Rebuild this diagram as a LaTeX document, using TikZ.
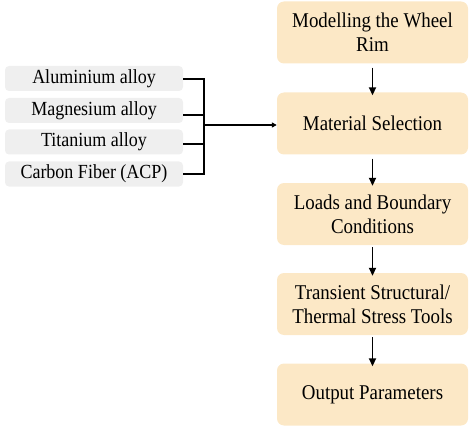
\documentclass[tikz,border=0pt]{standalone}
\usepackage{fontspec}
\setmainfont{Liberation Serif}[FakeStretch=0.9]
\usetikzlibrary{arrows.meta}
\definecolor{beige}{HTML}{FCE8C6}
\definecolor{lgray}{HTML}{EFEFEF}
\begin{document}
\begin{tikzpicture}[x=1pt,y=-1pt,
  stepbox/.style={fill=beige,rounded corners=7pt,minimum width=191pt,minimum height=62pt,align=center,font=\fontsize{21}{24}\selectfont,inner sep=0pt},
  matbox/.style={fill=lgray,rounded corners=4pt,minimum width=178pt,minimum height=25pt,font=\fontsize{20}{22}\selectfont,inner sep=0pt},
  arr/.style={-{Triangle[length=8pt,width=7pt]},line width=1.9pt},
  harr/.style={-{Triangle[length=5pt,width=5pt]},line width=1.7pt},
  ln/.style={line width=1.7pt}]
\useasboundingbox (0,0) rectangle (474,441);
\node[stepbox] (s1) at (372.5,32.5) {Modelling the Wheel\\Rim};
\node[stepbox] (s2) at (372.5,123.5) {Material Selection};
\node[stepbox] (s3) at (372.5,214) {Loads and Boundary\\Conditions};
\node[stepbox] (s4) at (372.5,304) {Transient Structural/\\Thermal Stress Tools};
\node[stepbox] (s5) at (372.5,394.5) {Output Parameters};
\node[matbox] (m1) at (94,78.5) {Aluminium alloy};
\node[matbox] (m2) at (94,110.5) {Magnesium alloy};
\node[matbox] (m3) at (94,142) {Titanium alloy};
\node[matbox] (m4) at (94,174) {Carbon Fiber (ACP)};
\coordinate (j1) at (204,79);
\coordinate (j4) at (204,174);
\coordinate (jm) at (204,125);
\draw[ln] (m1.east |- j1) -- (j1) -- (j4) -- (m4.east |- j4);
\draw[ln] (m2.east |- 0,115) -- (204,115);
\draw[ln] (m3.east |- 0,144) -- (204,144);
\draw[harr] (jm) -- (s2.west |- jm);
\draw[arr] (s1.south) ++(0,4) -- ([yshift=-3pt]s2.north);
\draw[arr] (s2.south) ++(0,4) -- ([yshift=-3pt]s3.north);
\draw[arr] (s3.south) ++(0,2) -- ([yshift=-3pt]s4.north);
\draw[arr] (s4.south) ++(0,2) -- ([yshift=-3pt]s5.north);
\end{tikzpicture}
\end{document}
